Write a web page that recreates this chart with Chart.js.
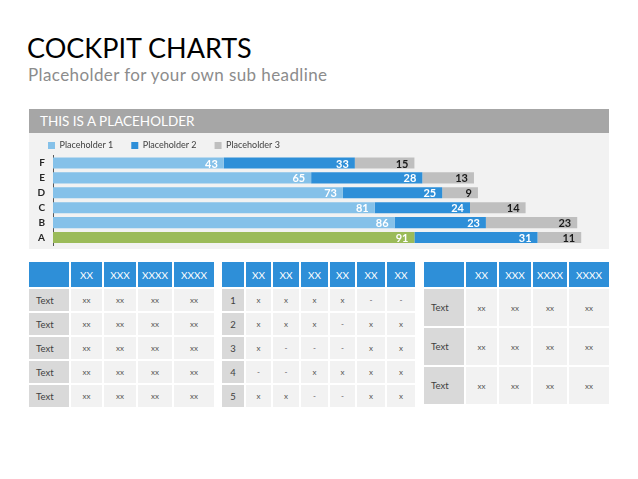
<!DOCTYPE html>
<html>
<head>
<meta charset="utf-8">
<script src="https://cdn.jsdelivr.net/npm/chart.js@4"></script>
<style>
  body { margin: 0; background: #fff; font-family: Lato, sans-serif; }
  .slide { position: relative; width: 638px; height: 479px; overflow: hidden; }
  .title { position: absolute; left: 27px; top: 34px; font-size: 27px; line-height: 27px; color: #000; }
  .subtitle { position: absolute; left: 28px; top: 66px; font-size: 17px; line-height: 17px; letter-spacing: 0.4px; color: #8c8c8c; }
  .bar { position: absolute; left: 29px; top: 109px; width: 580px; height: 24px; background: #a6a6a6; }
  .bar span { position: absolute; left: 11px; top: 6px; font-size: 13.5px; line-height: 13.5px; color: #fff; }
  .panel { position: absolute; left: 29px; top: 133px; width: 580px; height: 116px; background: #f2f2f2; }
  .chartbox { position: absolute; left: 29px; top: 123px; width: 580px; height: 136px; }
  .tbl { position: absolute; top: 262px; display: grid; gap: 2px; background: #fff; }
  .tbl div { display: flex; align-items: center; justify-content: center; background: #f2f2f2; font-size: 8px; color: #595959; }
  .tbl div.h { background: #2e8fd8; color: #fff; font-size: 10px; }
  .tbl div.f { background: #d9d9d9; justify-content: flex-start; padding-left: 7px; font-size: 9.5px; color: #404040; }
  .tbl div.n { background: #d9d9d9; font-size: 9.5px; color: #404040; }
</style>
</head>
<body>
<div class="slide">
  <div class="title">COCKPIT CHARTS</div>
  <div class="subtitle">Placeholder for your own sub headline</div>
  <div class="bar"><span>THIS IS A PLACEHOLDER</span></div>
  <div class="panel"></div>
  <div class="chartbox"><canvas id="cockpitChart"></canvas></div>
  <div class="tbl" id="table1"></div>
  <div class="tbl" id="table2"></div>
  <div class="tbl" id="table3"></div>
</div>
<script>
// chart data
var categories = ['F', 'E', 'D', 'C', 'B', 'A'];
var seriesNames = ['Placeholder 1', 'Placeholder 2', 'Placeholder 3'];
var placeholder1 = [43, 65, 73, 81, 86, 91];
var placeholder2 = [33, 28, 25, 24, 23, 31];
var placeholder3 = [15, 13, 9, 14, 23, 11];

// table data
var table1Head = ['', 'XX', 'XXX', 'XXXX', 'XXXX'];
var table1Rows = ['Text', 'Text', 'Text', 'Text', 'Text'];
var table2Head = ['', 'XX', 'XX', 'XX', 'XX', 'XX', 'XX'];
var table2Rows = [
    ['1', 'x', 'x', 'x', 'x', '-', '-'],
    ['2', 'x', 'x', 'x', '-', 'x', 'x'],
    ['3', 'x', '-', '-', '-', 'x', 'x'],
    ['4', '-', '-', 'x', 'x', 'x', 'x'],
    ['5', 'x', 'x', '-', '-', 'x', 'x']
];
var table3Head = ['', 'XX', 'XXX', 'XXXX', 'XXXX'];
var table3Rows = ['Text', 'Text', 'Text'];

var colP1 = '#85c1e9';
var colP2 = '#2e8fd8';
var colP3 = '#bfbfbf';
var colGreen = '#9bbb59';

Chart.defaults.font.family = 'Lato, sans-serif';

// draws the values inside the end of each bar segment
var barLabels = {
    id: 'barLabels',
    afterDatasetsDraw: function (chart) {
        var ctx = chart.ctx;
        var textColors = ['#ffffff', '#ffffff', '#1a1a1a'];
        ctx.save();
        ctx.font = 'bold 11px Lato, sans-serif';
        ctx.textAlign = 'right';
        ctx.textBaseline = 'middle';
        chart.data.datasets.forEach(function (ds, i) {
            chart.getDatasetMeta(i).data.forEach(function (bar, j) {
                ctx.fillStyle = textColors[i];
                ctx.fillText(ds.data[j], bar.x - 6, bar.y + 1);
            });
        });
        ctx.restore();
    }
};

var ctx = document.getElementById('cockpitChart').getContext('2d');
var cockpitChart = new Chart(ctx, {
    type: 'bar',
    data: {
        labels: categories,
        datasets: [{
            label: seriesNames[0],
            data: placeholder1,
            backgroundColor: placeholder1.map(function (v, i) { return categories[i] === 'A' ? colGreen : colP1; })
        }, {
            label: seriesNames[1],
            data: placeholder2,
            backgroundColor: colP2
        }, {
            label: seriesNames[2],
            data: placeholder3,
            backgroundColor: colP3
        }]
    },
    options: {
        indexAxis: 'y',
        responsive: true,
        maintainAspectRatio: false,
        animation: false,
        layout: { padding: { left: 1, right: 0, top: 0, bottom: 0 } },
        datasets: { bar: { barPercentage: 0.74, categoryPercentage: 1 } },
        scales: {
            x: { stacked: true, min: 0, max: 140, display: false },
            y: {
                stacked: true,
                grid: { display: true, drawOnChartArea: false, drawTicks: false },
                border: { display: true, color: '#595959', width: 1 },
                ticks: { padding: 8, color: '#262626', font: { size: 10, weight: 'bold' } },
                afterFit: function (scale) { scale.width = 23; }
            }
        },
        plugins: {
            legend: {
                position: 'top',
                align: 'start',
                maxHeight: 32.5,
                labels: {
                    boxWidth: 7,
                    boxHeight: 7,
                    padding: 18,
                    color: '#404040',
                    font: { size: 9 },
                    generateLabels: function (chart) {
                        var cols = [colP1, colP2, colP3];
                        return seriesNames.map(function (n, i) {
                            return { text: n, fillStyle: cols[i], strokeStyle: cols[i], lineWidth: 0, datasetIndex: i, fontColor: '#404040' };
                        });
                    }
                }
            },
            tooltip: { enabled: false }
        }
    },
    plugins: [barLabels]
});

// tables
function buildTable(id, left, cols, rows, head, body, firstClass) {
    var el = document.getElementById(id);
    el.style.left = left + 'px';
    el.style.gridTemplateColumns = cols.map(function (c) { return c + 'px'; }).join(' ');
    el.style.gridTemplateRows = rows.map(function (r) { return r + 'px'; }).join(' ');
    head.forEach(function (t) {
        var d = document.createElement('div');
        d.className = 'h';
        d.textContent = t;
        el.appendChild(d);
    });
    body.forEach(function (row) {
        row.forEach(function (t, i) {
            var d = document.createElement('div');
            if (i === 0) d.className = firstClass;
            d.textContent = t;
            el.appendChild(d);
        });
    });
}

buildTable('table1', 29, [40, 31, 32, 34, 40], [25, 22, 22, 22, 22, 22], table1Head,
    table1Rows.map(function (t) { return [t, 'xx', 'xx', 'xx', 'xx']; }), 'f');
buildTable('table2', 222, [22, 25, 26, 27, 25, 28, 28], [25, 22, 22, 22, 22, 22], table2Head, table2Rows, 'n');
buildTable('table3', 424, [40, 31, 32, 34, 40], [25, 37, 37, 37], table3Head,
    table3Rows.map(function (t) { return [t, 'xx', 'xx', 'xx', 'xx']; }), 'f');
</script>
</body>
</html>
